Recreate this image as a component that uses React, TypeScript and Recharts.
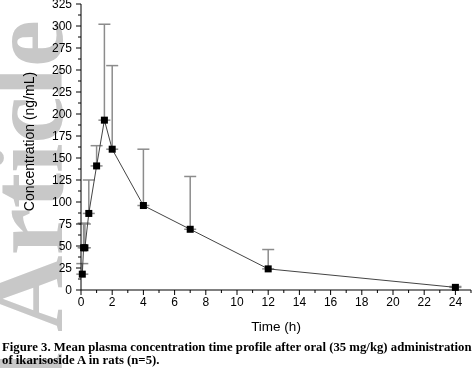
import React from 'react';
import { LineChart, Line, XAxis, YAxis, ErrorBar } from 'recharts';

const times = [0.083, 0.167, 0.25, 0.5, 1, 1.5, 2, 4, 7, 12, 24];
const meanConc = [18, 48, 48, 87, 141, 193, 160, 96, 69, 24, 3];
const sdConc = [12, 28, 27, 38, 23, 109, 95, 64, 60, 22, 1];

const xTicksAll = [0, 1, 2, 3, 4, 5, 6, 7, 8, 9, 10, 11, 12, 13, 14, 15, 16, 17, 18, 19, 20, 21, 22, 23, 24, 25];
const xTickLabels = [0, 2, 4, 6, 8, 10, 12, 14, 16, 18, 20, 22, 24];
const yTicksAll = [0, 12.5, 25, 37.5, 50, 62.5, 75, 87.5, 100, 112.5, 125, 137.5, 150, 162.5, 175, 187.5, 200, 212.5, 225, 237.5, 250, 262.5, 275, 287.5, 300, 312.5, 325];
const yTickLabels = [0, 25, 50, 75, 100, 125, 150, 175, 200, 225, 250, 275, 300, 325];

const xLabel = 'Time (h)';
const yLabel = 'Concentration (ng/mL)';
const captionLine1 = 'Figure 3. Mean plasma concentration time profile after oral (35 mg/kg) administration';
const captionLine2 = 'of ikarisoside A in rats (n=5).';
const watermark = 'd Article';

const data = times.map((t, i) => ({ t, mean: meanConc[i], err: [0, sdConc[i]] }));

const SANS = '"Liberation Sans", Arial, Helvetica, sans-serif';
const SERIF = '"Liberation Serif", "Times New Roman", serif';

const XTick = (props: any) => {
  const { x, y, payload } = props;
  const major = xTickLabels.includes(payload.value);
  return (
    <g>
      <line x1={x} y1={y} x2={x} y2={y + (major ? 5 : 3)} stroke="#000" strokeWidth={1} />
      {major && (
        <text x={x} y={y + 16} textAnchor="middle" fontSize={12} fontFamily={SANS} fill="#000">
          {payload.value}
        </text>
      )}
    </g>
  );
};

const YTick = (props: any) => {
  const { x, y, payload } = props;
  const major = yTickLabels.includes(payload.value);
  return (
    <g>
      <line x1={x} y1={y} x2={x - (major ? 5 : 3)} y2={y} stroke="#000" strokeWidth={1} />
      {major && (
        <text x={x - 9} y={y + 4.2} textAnchor="end" fontSize={12} fontFamily={SANS} fill="#000">
          {payload.value}
        </text>
      )}
    </g>
  );
};

const SquareDot = (p: any) => (
  <rect key={`d-${p.index}`} x={p.cx - 3.5} y={p.cy - 3.5} width={7} height={7} fill="#000" />
);

export default function App() {
  return (
    <div style={{ position: 'absolute', left: 0, top: 0, width: 474, height: 368, overflow: 'hidden', background: '#fff' }}>
      <div style={{ position: 'absolute', left: 0, top: 0 }}>
        <LineChart width={474} height={368} data={data} margin={{ top: 4, right: 3, bottom: 48, left: 0 }}>
          <XAxis
            dataKey="t"
            type="number"
            domain={[0, 25]}
            ticks={xTicksAll}
            interval={0}
            tickSize={0}
            tickMargin={0}
            tickLine={false}
            tick={<XTick />}
            height={30}
            stroke="#000"
            allowDecimals
          />
          <YAxis
            type="number"
            domain={[0, 325]}
            ticks={yTicksAll}
            interval={0}
            tickSize={0}
            tickMargin={0}
            tickLine={false}
            tick={<YTick />}
            width={81}
            stroke="#000"
          />
          <Line
            type="linear"
            dataKey="mean"
            stroke="none"
            dot={false}
            activeDot={false}
            isAnimationActive={false}
          >
            <ErrorBar dataKey="err" width={6} stroke="#8c8c8c" strokeWidth={1.5} direction="y" isAnimationActive={false} />
          </Line>
          <Line
            type="linear"
            dataKey="mean"
            stroke="#444"
            strokeWidth={1}
            dot={SquareDot}
            activeDot={false}
            isAnimationActive={false}
          />
        </LineChart>
      </div>
      <svg width={474} height={368} style={{ position: 'absolute', left: 0, top: 0, pointerEvents: 'none' }}>
        <text x={276} y={331} textAnchor="middle" fontSize={13.5} fontFamily={SANS} fill="#000">
          {xLabel}
        </text>
        <text transform="translate(34, 141.5) rotate(-90)" textAnchor="middle" fontSize={14} fontFamily={SANS} fill="#000">
          {yLabel}
        </text>
        <text
          transform="translate(62, 20) rotate(-90)"
          textAnchor="end"
          fontSize={106}
          fontWeight="bold"
          fontFamily={SERIF}
          fill="#c8c8c8"
          style={{ mixBlendMode: 'multiply' }}
        >
          {watermark}
        </text>
        <text x={2} y={351} fontSize={12.75} fontWeight="bold" fontFamily={SERIF} fill="#000">
          {captionLine1}
        </text>
        <text x={2} y={364} fontSize={12.75} fontWeight="bold" fontFamily={SERIF} fill="#000">
          {captionLine2}
        </text>
      </svg>
    </div>
  );
}
